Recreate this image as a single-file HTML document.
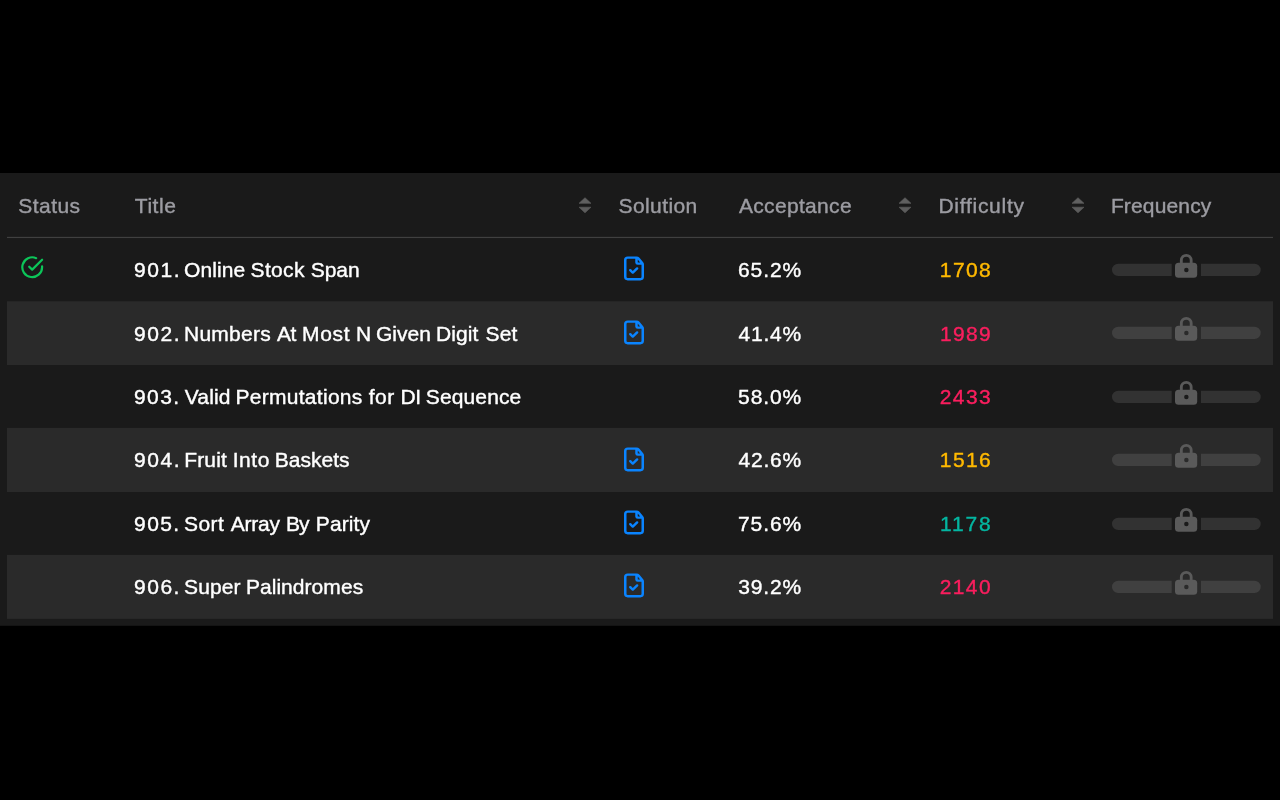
<!DOCTYPE html><html lang="en"><head><meta charset="utf-8"><title>Problems</title><style>
*{margin:0;padding:0;box-sizing:border-box}
html,body{width:1280px;height:800px;background:#000;overflow:hidden}
body{position:relative;font-family:"Liberation Sans",sans-serif}
.t{position:absolute;white-space:nowrap;line-height:1;font-size:21.0px;-webkit-text-stroke:0.4px currentColor}
.h{color:#9c9ca2}
.c{color:#fff}
.y{color:#ffb900}.p{color:#fa1e5e}.g{color:#04b6a1}
svg{position:absolute;display:block;overflow:visible}
</style></head><body>
<svg style="left:0;top:0" width="1280" height="800" viewBox="0 0 1280 800"><rect x="0" y="173" width="1280" height="452.8" fill="#1a1a1a"/><rect x="7" y="301.25" width="1266" height="63.75" fill="#2a2a2a"/><rect x="7" y="427.9" width="1266" height="64.1" fill="#2a2a2a"/><rect x="7" y="554.9" width="1266" height="64" fill="#2a2a2a"/><rect x="7" y="236.85" width="1266" height="1.2" fill="#404040"/></svg>
<span class="t h" style="left:18.17px;top:195.32px;letter-spacing:0.486px">Status</span>
<span class="t h" style="left:134.83px;top:195.32px;letter-spacing:0.530px">Title</span>
<span class="t h" style="left:618.57px;top:195.32px;letter-spacing:0.403px">Solution</span>
<span class="t h" style="left:738.88px;top:195.32px;letter-spacing:0.334px">Acceptance</span>
<span class="t h" style="left:938.38px;top:195.32px;letter-spacing:0.743px">Difficulty</span>
<span class="t h" style="left:1110.88px;top:195.32px;letter-spacing:0.154px">Frequency</span>
<span class="t c" style="left:133.92px;top:259.32px;letter-spacing:1.564px">901.</span>
<span class="t c" style="left:183.96px;top:259.32px;letter-spacing:0.098px">Online</span>
<span class="t c" style="left:250.57px;top:259.32px;letter-spacing:0.334px">Stock</span>
<span class="t c" style="left:310.77px;top:259.32px;letter-spacing:-0.058px">Span</span>
<span class="t c" style="left:737.89px;top:259.32px;letter-spacing:0.964px">65.2%</span>
<span class="t y" style="left:939.86px;top:259.32px;letter-spacing:1.371px">1708</span>
<span class="t c" style="left:133.92px;top:323.32px;letter-spacing:1.564px">902.</span>
<span class="t c" style="left:183.98px;top:323.32px;letter-spacing:0.264px">Numbers</span>
<span class="t c" style="left:277.08px;top:323.32px;letter-spacing:-0.671px">At</span>
<span class="t c" style="left:301.98px;top:323.32px;letter-spacing:0.678px">Most</span>
<span class="t c" style="left:356.01px;top:323.32px">N</span>
<span class="t c" style="left:375.95px;top:323.32px;letter-spacing:0.009px">Given</span>
<span class="t c" style="left:436.08px;top:323.32px;letter-spacing:0.058px">Digit</span>
<span class="t c" style="left:485.57px;top:323.32px;letter-spacing:0.125px">Set</span>
<span class="t c" style="left:738.48px;top:323.32px;letter-spacing:0.818px">41.4%</span>
<span class="t p" style="left:940.11px;top:323.32px;letter-spacing:1.313px">1989</span>
<span class="t c" style="left:133.92px;top:386.32px;letter-spacing:1.464px">903.</span>
<span class="t c" style="left:184.82px;top:386.32px;letter-spacing:0.107px">Valid</span>
<span class="t c" style="left:235.48px;top:386.32px;letter-spacing:0.284px">Permutations</span>
<span class="t c" style="left:368.67px;top:386.32px;letter-spacing:0.537px">for</span>
<span class="t c" style="left:400.38px;top:386.32px;letter-spacing:-0.282px">DI</span>
<span class="t c" style="left:425.77px;top:386.32px;letter-spacing:0.128px">Sequence</span>
<span class="t c" style="left:738.10px;top:386.32px;letter-spacing:0.912px">58.0%</span>
<span class="t p" style="left:939.66px;top:386.32px;letter-spacing:1.447px">2433</span>
<span class="t c" style="left:133.92px;top:449.32px;letter-spacing:1.564px">904.</span>
<span class="t c" style="left:184.18px;top:449.32px;letter-spacing:0.158px">Fruit</span>
<span class="t c" style="left:232.67px;top:449.32px;letter-spacing:0.567px">Into</span>
<span class="t c" style="left:274.73px;top:449.32px;letter-spacing:0.022px">Baskets</span>
<span class="t c" style="left:738.48px;top:449.32px;letter-spacing:0.818px">42.6%</span>
<span class="t y" style="left:939.86px;top:449.32px;letter-spacing:1.374px">1516</span>
<span class="t c" style="left:134.12px;top:513.32px;letter-spacing:1.398px">905.</span>
<span class="t c" style="left:184.07px;top:513.32px;letter-spacing:0.383px">Sort</span>
<span class="t c" style="left:230.68px;top:513.32px;letter-spacing:-0.189px">Array</span>
<span class="t c" style="left:285.88px;top:513.32px;letter-spacing:-0.773px">By</span>
<span class="t c" style="left:315.78px;top:513.32px;letter-spacing:0.127px">Parity</span>
<span class="t c" style="left:737.89px;top:513.32px;letter-spacing:0.966px">75.6%</span>
<span class="t g" style="left:940.11px;top:513.32px;letter-spacing:1.808px">1178</span>
<span class="t c" style="left:134.12px;top:576.32px;letter-spacing:1.464px">906.</span>
<span class="t c" style="left:184.07px;top:576.32px;letter-spacing:0.078px">Super</span>
<span class="t c" style="left:245.88px;top:576.32px;letter-spacing:0.053px">Palindromes</span>
<span class="t c" style="left:738.15px;top:576.32px;letter-spacing:0.900px">39.2%</span>
<span class="t p" style="left:939.66px;top:576.32px;letter-spacing:1.404px">2140</span>
<svg style="left:578.10px;top:196.35px" width="14" height="18" viewBox="0 0 14 18"><path d="M7 1.7 L13 7.35 H1 Z" fill="#606060" stroke="#606060" stroke-width="0.6" stroke-linejoin="round"/><path d="M7 16.85 L13 11.2 H1 Z" fill="#5c5c5c" stroke="#5c5c5c" stroke-width="0.6" stroke-linejoin="round"/></svg>
<svg style="left:898.20px;top:196.35px" width="14" height="18" viewBox="0 0 14 18"><path d="M7 1.7 L13 7.35 H1 Z" fill="#606060" stroke="#606060" stroke-width="0.6" stroke-linejoin="round"/><path d="M7 16.85 L13 11.2 H1 Z" fill="#5c5c5c" stroke="#5c5c5c" stroke-width="0.6" stroke-linejoin="round"/></svg>
<svg style="left:1070.80px;top:196.35px" width="14" height="18" viewBox="0 0 14 18"><path d="M7 1.7 L13 7.35 H1 Z" fill="#606060" stroke="#606060" stroke-width="0.6" stroke-linejoin="round"/><path d="M7 16.85 L13 11.2 H1 Z" fill="#5c5c5c" stroke="#5c5c5c" stroke-width="0.6" stroke-linejoin="round"/></svg>
<svg style="left:18.85px;top:253.85px" width="26.4" height="26.4" viewBox="0 0 24 24" fill="#0cc559"><path fill-rule="evenodd" clip-rule="evenodd" d="M20 12.005v-.828a1 1 0 112 0v.829a10 10 0 11-5.93-9.14 1 1 0 01-.814 1.826A8 8 0 1020 12.005zM8.593 10.852a1 1 0 011.414 0L12 12.844l8.293-8.3a1 1 0 011.415 1.413l-9 9.009a1 1 0 01-1.415 0l-2.7-2.7a1 1 0 010-1.414z"/></svg>
<svg style="left:618.65px;top:254.30px" width="30" height="28.8" viewBox="0 0 24 24" preserveAspectRatio="none" fill="#0a84ff"><path d="M15.207 11.293a1 1 0 010 1.414l-3.5 3.5a1 1 0 01-1.414 0l-2-2a1 1 0 111.414-1.414L11 14.086l2.793-2.793a1 1 0 011.414 0z"/><path d="M4 5a3 3 0 013-3h7.039a3 3 0 012.342 1.126l2.962 3.701A3 3 0 0120 8.702V19a3 3 0 01-3 3H7a3 3 0 01-3-3V5zm3-1a1 1 0 00-1 1v14a1 1 0 001 1h10a1 1 0 001-1V9h-3a2 2 0 01-2-2V4H7zm8 .6V7h1.92L15 4.6z"/></svg>
<svg style="left:1172px;top:252.00px" width="28" height="28" viewBox="0 0 28 28"><path d="M-53.8 11.7 H-0.3 V24.1 H-53.8 A6.2 6.2 0 0 1 -53.8 11.7 Z M29 11.7 H82.5 A6.2 6.2 0 0 1 82.5 24.1 H29 Z" fill="#323232"/><path d="M9.32 12.5 V8.25 a4.93 4.93 0 0 1 9.86 0 V12.5" fill="none" stroke="#5a5a5a" stroke-width="2.85"/><rect x="3" y="10.66" width="22.2" height="15.1" rx="3.5" fill="#5a5a5a"/><circle cx="14.35" cy="17.97" r="2.25" fill="#1a1a1a"/></svg>
<svg style="left:618.65px;top:317.70px" width="30" height="28.8" viewBox="0 0 24 24" preserveAspectRatio="none" fill="#0a84ff"><path d="M15.207 11.293a1 1 0 010 1.414l-3.5 3.5a1 1 0 01-1.414 0l-2-2a1 1 0 111.414-1.414L11 14.086l2.793-2.793a1 1 0 011.414 0z"/><path d="M4 5a3 3 0 013-3h7.039a3 3 0 012.342 1.126l2.962 3.701A3 3 0 0120 8.702V19a3 3 0 01-3 3H7a3 3 0 01-3-3V5zm3-1a1 1 0 00-1 1v14a1 1 0 001 1h10a1 1 0 001-1V9h-3a2 2 0 01-2-2V4H7zm8 .6V7h1.92L15 4.6z"/></svg>
<svg style="left:1172px;top:315.40px" width="28" height="28" viewBox="0 0 28 28"><path d="M-53.8 11.7 H-0.3 V24.1 H-53.8 A6.2 6.2 0 0 1 -53.8 11.7 Z M29 11.7 H82.5 A6.2 6.2 0 0 1 82.5 24.1 H29 Z" fill="#404040"/><path d="M9.32 12.5 V8.25 a4.93 4.93 0 0 1 9.86 0 V12.5" fill="none" stroke="#5a5a5a" stroke-width="2.85"/><rect x="3" y="10.66" width="22.2" height="15.1" rx="3.5" fill="#5a5a5a"/><circle cx="14.35" cy="17.97" r="2.25" fill="#2a2a2a"/></svg>
<svg style="left:1172px;top:378.80px" width="28" height="28" viewBox="0 0 28 28"><path d="M-53.8 11.7 H-0.3 V24.1 H-53.8 A6.2 6.2 0 0 1 -53.8 11.7 Z M29 11.7 H82.5 A6.2 6.2 0 0 1 82.5 24.1 H29 Z" fill="#323232"/><path d="M9.32 12.5 V8.25 a4.93 4.93 0 0 1 9.86 0 V12.5" fill="none" stroke="#5a5a5a" stroke-width="2.85"/><rect x="3" y="10.66" width="22.2" height="15.1" rx="3.5" fill="#5a5a5a"/><circle cx="14.35" cy="17.97" r="2.25" fill="#1a1a1a"/></svg>
<svg style="left:618.65px;top:444.50px" width="30" height="28.8" viewBox="0 0 24 24" preserveAspectRatio="none" fill="#0a84ff"><path d="M15.207 11.293a1 1 0 010 1.414l-3.5 3.5a1 1 0 01-1.414 0l-2-2a1 1 0 111.414-1.414L11 14.086l2.793-2.793a1 1 0 011.414 0z"/><path d="M4 5a3 3 0 013-3h7.039a3 3 0 012.342 1.126l2.962 3.701A3 3 0 0120 8.702V19a3 3 0 01-3 3H7a3 3 0 01-3-3V5zm3-1a1 1 0 00-1 1v14a1 1 0 001 1h10a1 1 0 001-1V9h-3a2 2 0 01-2-2V4H7zm8 .6V7h1.92L15 4.6z"/></svg>
<svg style="left:1172px;top:442.20px" width="28" height="28" viewBox="0 0 28 28"><path d="M-53.8 11.7 H-0.3 V24.1 H-53.8 A6.2 6.2 0 0 1 -53.8 11.7 Z M29 11.7 H82.5 A6.2 6.2 0 0 1 82.5 24.1 H29 Z" fill="#404040"/><path d="M9.32 12.5 V8.25 a4.93 4.93 0 0 1 9.86 0 V12.5" fill="none" stroke="#5a5a5a" stroke-width="2.85"/><rect x="3" y="10.66" width="22.2" height="15.1" rx="3.5" fill="#5a5a5a"/><circle cx="14.35" cy="17.97" r="2.25" fill="#2a2a2a"/></svg>
<svg style="left:618.65px;top:507.90px" width="30" height="28.8" viewBox="0 0 24 24" preserveAspectRatio="none" fill="#0a84ff"><path d="M15.207 11.293a1 1 0 010 1.414l-3.5 3.5a1 1 0 01-1.414 0l-2-2a1 1 0 111.414-1.414L11 14.086l2.793-2.793a1 1 0 011.414 0z"/><path d="M4 5a3 3 0 013-3h7.039a3 3 0 012.342 1.126l2.962 3.701A3 3 0 0120 8.702V19a3 3 0 01-3 3H7a3 3 0 01-3-3V5zm3-1a1 1 0 00-1 1v14a1 1 0 001 1h10a1 1 0 001-1V9h-3a2 2 0 01-2-2V4H7zm8 .6V7h1.92L15 4.6z"/></svg>
<svg style="left:1172px;top:505.60px" width="28" height="28" viewBox="0 0 28 28"><path d="M-53.8 11.7 H-0.3 V24.1 H-53.8 A6.2 6.2 0 0 1 -53.8 11.7 Z M29 11.7 H82.5 A6.2 6.2 0 0 1 82.5 24.1 H29 Z" fill="#323232"/><path d="M9.32 12.5 V8.25 a4.93 4.93 0 0 1 9.86 0 V12.5" fill="none" stroke="#5a5a5a" stroke-width="2.85"/><rect x="3" y="10.66" width="22.2" height="15.1" rx="3.5" fill="#5a5a5a"/><circle cx="14.35" cy="17.97" r="2.25" fill="#1a1a1a"/></svg>
<svg style="left:618.65px;top:571.30px" width="30" height="28.8" viewBox="0 0 24 24" preserveAspectRatio="none" fill="#0a84ff"><path d="M15.207 11.293a1 1 0 010 1.414l-3.5 3.5a1 1 0 01-1.414 0l-2-2a1 1 0 111.414-1.414L11 14.086l2.793-2.793a1 1 0 011.414 0z"/><path d="M4 5a3 3 0 013-3h7.039a3 3 0 012.342 1.126l2.962 3.701A3 3 0 0120 8.702V19a3 3 0 01-3 3H7a3 3 0 01-3-3V5zm3-1a1 1 0 00-1 1v14a1 1 0 001 1h10a1 1 0 001-1V9h-3a2 2 0 01-2-2V4H7zm8 .6V7h1.92L15 4.6z"/></svg>
<svg style="left:1172px;top:569.00px" width="28" height="28" viewBox="0 0 28 28"><path d="M-53.8 11.7 H-0.3 V24.1 H-53.8 A6.2 6.2 0 0 1 -53.8 11.7 Z M29 11.7 H82.5 A6.2 6.2 0 0 1 82.5 24.1 H29 Z" fill="#404040"/><path d="M9.32 12.5 V8.25 a4.93 4.93 0 0 1 9.86 0 V12.5" fill="none" stroke="#5a5a5a" stroke-width="2.85"/><rect x="3" y="10.66" width="22.2" height="15.1" rx="3.5" fill="#5a5a5a"/><circle cx="14.35" cy="17.97" r="2.25" fill="#2a2a2a"/></svg>
</body></html>
